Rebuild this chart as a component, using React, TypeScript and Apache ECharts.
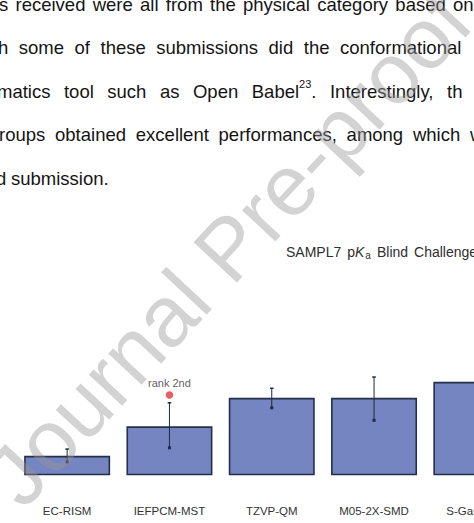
import { useRef, useEffect } from 'react';
import * as echarts from 'echarts';

// chart data (y in arbitrary units)
const categories = ['EC-RISM', 'IEFPCM-MST', 'TZVP-QM', 'M05-2X-SMD', 'S-Gaussian'];
const barValues = [0.78, 1.96, 3.1, 3.1, 3.74];
const errCategories = ['EC-RISM', 'IEFPCM-MST', 'TZVP-QM', 'M05-2X-SMD'];
const errLow = [0.54, 1.1, 2.7, 2.2];
const errHigh = [1.05, 2.9, 3.48, 3.93];
const rankCategories = ['IEFPCM-MST'];
const rankValues = [3.21];
const rankLabels = ['rank 2nd'];

// the page text above the chart ({..} = superscript)
const paragraphLines = [
    's received were all from the physical category based on',
    'h some of these submissions did the conformational',
    'matics tool such as Open Babel{23}. Interestingly, th',
    'roups obtained excellent performances, among which w',
    'd submission.',
];
// [x of first word, x of last word, middle y] for each justified line
const lineLayout = [
    [-1, 453, 4],
    [-2, 340, 47.5],
    [-3, 447, 91],
    [-1, 470, 134.5],
    [-4, 11, 178],
];

// title words ({..} italic, [..] subscript)
const titleWords = ['SAMPL7', 'p{K}[a]', 'Blind', 'Challenge'];

const BODY_FONT = '18.5px "Liberation Sans", Arial, sans-serif';
const SUP_FONT = '11px "Liberation Sans", Arial, sans-serif';

const ctx = document.createElement('canvas').getContext('2d') as CanvasRenderingContext2D;
function measure(t: string, font: string) {
    ctx.font = font;
    return ctx.measureText(t).width;
}

function splitWord(w: string) {
    const m = w.match(/^(.*)\{(.*)\}(.*)$/);
    if (!m) return [w, '', ''];
    return [m[1], m[2], m[3]];
}

function wordWidth(w: string) {
    const [a, sup, b] = splitWord(w);
    return measure(a, BODY_FONT) + (sup ? measure(sup, SUP_FONT) : 0) + (b ? measure(b, BODY_FONT) : 0);
}

function buildParagraph() {
    const els: any[] = [];
    paragraphLines.forEach((line, i) => {
        const words = line.split(' ');
        const [x0, x1, y] = lineLayout[i];
        const widths = words.map(wordWidth);
        let sum = 0;
        for (let k = 0; k < words.length - 1; k++) sum += widths[k];
        const gap = (x1 - x0 - sum) / (words.length - 1);
        let x = x0;
        words.forEach((w, k) => {
            const [a, sup, b] = splitWord(w);
            const base = { fill: '#141414', verticalAlign: 'middle', align: 'left' };
            els.push({ type: 'text', x, y, style: { ...base, text: a, font: BODY_FONT } });
            if (sup) {
                const xs = x + measure(a, BODY_FONT);
                els.push({ type: 'text', x: xs, y: y - 7, style: { ...base, text: sup, font: SUP_FONT } });
                if (b) {
                    els.push({
                        type: 'text', x: xs + measure(sup, SUP_FONT), y,
                        style: { ...base, text: b, font: BODY_FONT },
                    });
                }
            }
            x += widths[k] + gap;
        });
    });
    return els;
}

function buildTitle() {
    const f = '14px "Liberation Sans", Arial, sans-serif';
    const fi = 'italic 14px "Liberation Sans", Arial, sans-serif';
    const fs = '10px "Liberation Sans", Arial, sans-serif';
    const y = 251.5;
    const base = { fill: '#2e2e2e', verticalAlign: 'middle', align: 'left' };
    const els: any[] = [];
    let x = 286;
    titleWords.forEach((w) => {
        const m = w.match(/^(.*)\{(.*)\}\[(.*)\]$/);
        if (!m) {
            els.push({ type: 'text', x, y, style: { ...base, text: w, font: f } });
            x += measure(w, f) + 6;
            return;
        }
        els.push({ type: 'text', x, y, style: { ...base, text: m[1], font: f } });
        x += measure(m[1], f);
        els.push({ type: 'text', x, y, style: { ...base, text: m[2], font: fi } });
        x += measure(m[2], fi) + 1;
        els.push({ type: 'text', x, y: y + 3.5, style: { ...base, text: m[3], font: fs } });
        x += measure(m[3], fs) + 6;
    });
    return els;
}

const App = () => {
    const chartRef = useRef<HTMLDivElement>(null);

    useEffect(() => {
        if (!chartRef.current) return;
        const chart = echarts.init(chartRef.current, null, { renderer: 'svg' });

        const options: any = {
            animation: false,
            backgroundColor: '#fff',
            grid: {
                left: 16,
                width: 511.5,
                top: 275.3,
                bottom: 47.7,
                outerBoundsMode: 'none',
                containLabel: false,
            },
            xAxis: {
                type: 'category',
                data: categories,
                axisLine: { show: false },
                axisTick: { show: false },
                axisLabel: {
                    interval: 0,
                    margin: 30,
                    color: '#333',
                    fontSize: 11.5,
                    fontFamily: '"Liberation Sans", Arial, sans-serif',
                },
            },
            yAxis: { type: 'value', min: 0, max: 8, show: false },
            series: [
                {
                    type: 'bar',
                    data: barValues,
                    barWidth: 86,
                    itemStyle: { color: '#7585c2', borderColor: '#262f48', borderWidth: 1.6 },
                    z: 2,
                },
                {
                    type: 'custom',
                    z: 3,
                    data: errCategories.map((c, i) => [c, errLow[i], errHigh[i]]),
                    encode: { x: 0, y: [1, 2] },
                    renderItem: (params: any, api: any) => {
                        const lo = api.coord([api.value(0), api.value(1)]);
                        const hi = api.coord([api.value(0), api.value(2)]);
                        const st = { stroke: '#1d2a48', lineWidth: 1 };
                        return {
                            type: 'group',
                            children: [
                                { type: 'line', shape: { x1: lo[0], y1: lo[1], x2: hi[0], y2: hi[1] }, style: st },
                                { type: 'line', shape: { x1: hi[0] - 1.8, y1: hi[1], x2: hi[0] + 1.8, y2: hi[1] }, style: { ...st, lineWidth: 1.5 } },
                                { type: 'rect', shape: { x: lo[0] - 1.5, y: lo[1] - 1.5, width: 3, height: 3 }, style: { fill: '#1d2a48' } },
                            ],
                        };
                    },
                },
                {
                    type: 'scatter',
                    z: 4,
                    data: rankCategories.map((c, i) => ({ value: [c, rankValues[i]], name: rankLabels[i] })),
                    symbol: 'circle',
                    symbolSize: 7.5,
                    itemStyle: { color: '#e8323c' },
                    label: {
                        show: true,
                        position: 'top',
                        distance: 3,
                        formatter: (p: any) => p.name,
                        color: '#333',
                        fontSize: 11,
                        fontFamily: '"Liberation Sans", Arial, sans-serif',
                    },
                },
            ],
            graphic: [
                ...buildParagraph(),
                ...buildTitle(),
                {
                    type: 'text',
                    x: 228,
                    y: 248,
                    rotation: (47 * Math.PI) / 180,
                    z: 100,
                    silent: true,
                    style: {
                        text: 'Journal Pre-proof',
                        font: '86px "Liberation Sans", Arial, sans-serif',
                        fill: 'rgba(150,150,150,0.42)',
                        align: 'center',
                        verticalAlign: 'middle',
                    },
                },
            ],
        };
        chart.setOption(options);

        return () => {
            chart.dispose();
        };
    }, []);

    return (
        <div
            ref={chartRef}
            style={{ position: 'fixed', left: 0, top: 0, width: 474, height: 523 }}
        />
    );
};

export default App;
